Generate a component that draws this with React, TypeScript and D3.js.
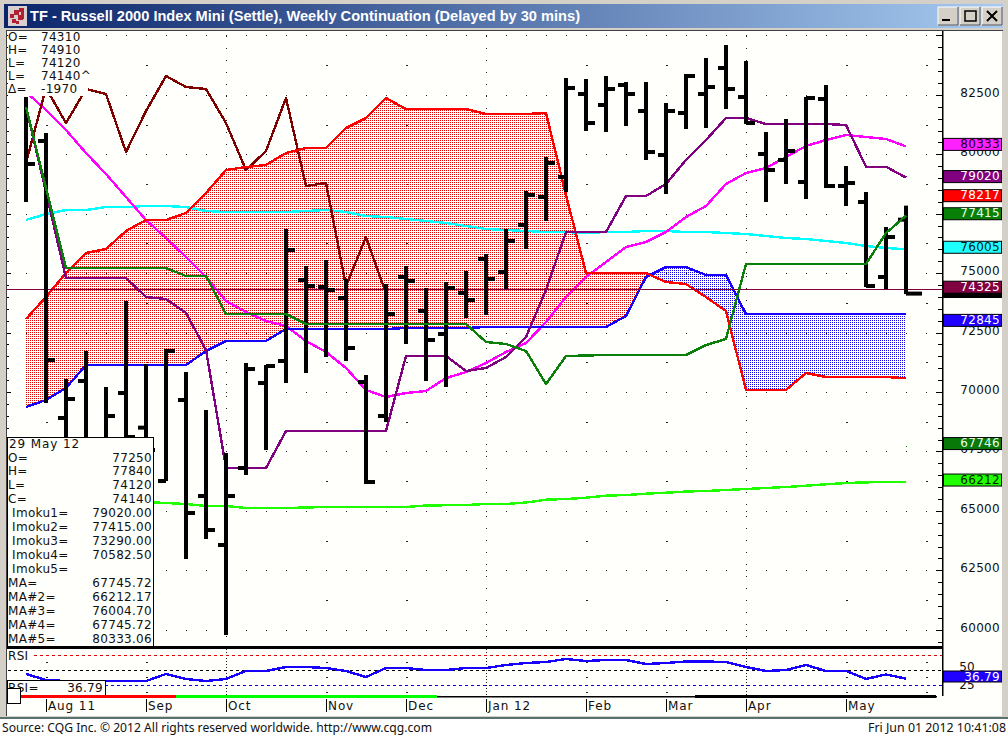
import React from "react";
import * as d3 from "d3";

const W = 1008, H = 736;
const FONT = "'DejaVu Sans', sans-serif";

const highs = [82410,80896,70546,71724,70210,73828,71178,71809,70841,69242,67433,71220,71136,76857,75300,75553,74753,70715,74543,75300,74375,74627,75090,75805,76857,78456,79886,83210,83167,83294,83041,83041,82158,83378,84051,84598,83925,80938,81485,82410,82915,79507,78414,76941,77840];
const opens = [null,80559,68906,70462,67500,69957,68500,66255,69663,65624,63563,66802,70378,71304,74711,74417,73954,70420,68990,74838,73407,72440,74164,75595,75048,77025,78203,79045,82536,82074,82915,81821,79970,81737,82536,83630,82410,80012,79760,78834,82326,78666,77993,74838,77250];
const closes = [79592,71346,69705,68000,68990,68106,67559,71724,64909,64194,65624,70967,71094,75973,74459,74291,71851,66213,73281,74669,72187,74375,73870,74753,76352,78287,79634,82789,81316,82747,82536,80096,81821,83294,82831,82747,81316,79339,80138,82368,78666,78792,74459,76520,74140];
const lows = [77993,69537,66000,66500,66500,66500,65500,66255,62974,63815,59777,66508,67559,70378,70799,71472,71304,66129,68737,72019,70462,70210,73113,73239,74333,76016,77194,78414,80980,80938,81190,79760,78329,81064,81106,81905,81274,77993,78750,78119,78582,77825,74417,74333,74120];

const tenkan = [81990,78414,74796,74796,74796,74796,73996,73912,73323,71766,66802,66802,66802,68359,68359,68359,68359,68359,68359,71514,71514,71514,70883,71009,71472,72313,74291,76731,76731,76731,78245,78245,78750,79760,80601,81527,81527,81274,81274,81274,81274,81232,79478,79478,79020];
const kijun = [81990,78582,75216,75216,75216,75216,75216,75216,74880,74880,73281,73281,73281,73281,72860,72860,72860,72860,72860,72860,72860,72860,72860,72103,72019,71724,70336,71514,71535,71556,71556,71556,71556,71556,71977,72229,75385,75385,75385,75385,75385,75385,75385,76689,77415];
const senkouA = [73071,73996,75006,75847,76016,76773,77236,77236,77530,78371,79339,79465,79550,80054,80265,80265,81106,81527,82368,81905,81905,81905,81905,81695,81695,81695,81737,78287,75006,75006,75006,75006,74627,74543,73996,73407,70084,70084,70084,70799,70630,70630,70630,70630,70582];
const senkouB = [69369,69663,70168,71136,71136,71136,71136,71136,71136,71724,72145,72145,72145,72650,72650,72650,72650,72650,72650,72692,72692,72692,72692,72734,72734,72734,72734,72734,72734,72734,73197,74838,75258,75258,74922,74922,73281,73281,73281,73281,73281,73281,73281,73281,73290];
const chikou = [79634,82789,81316,82747,82536,80096,81821,83294,82831,82747,81316,79339,80138,82368,78666,78792,74459,76520,74140];
const maCyan = [77236,77488,77656,77656,77782,77782,77824,77824,77782,77614,77572,77572,77572,77572,77614,77656,77572,77404,77362,77278,77194,77110,76983,76857,76815,76773,76731,76731,76689,76731,76731,76773,76773,76731,76731,76689,76647,76562,76478,76436,76352,76268,76142,76058,76005];
const maMagenta = [82621,81863,81022,80054,79171,78203,77236,76478,75679,74838,73828,73365,72986,72776,72145,71682,71009,70084,69789,69958,70042,70588,70841,71220,71682,72061,72944,73996,74838,75469,76100,76310,76731,77362,77825,78750,79213,79423,79886,80349,80601,80812,80727,80643,80333];
const maLime = [65372,65330,65288,65204,65204,65119,65119,65119,65140,65162,65162,65162,65162,65162,65225,65235,65246,65288,65288,65351,65469,65498,65553,65637,65667,65721,65763,65813,65835,65877,65919,65961,66003,66058,66116,66171,66200,66205,66212];
const maLimeStart = 6;
const maDarkLast = 67746;
const rsiValues = [44.5,34.5,32.8,32.8,32.8,32.8,32.8,44.5,36.2,32.8,36.2,49.5,49.5,56.2,56.2,54.5,49.5,39.5,54.5,54.5,51.2,51.2,54.5,54.5,59.5,62.8,64.5,69.5,66.2,67.8,67.8,61.2,62.8,65.3,65.3,64.5,56.2,49.5,51.2,59.5,49.5,49.5,36.2,43.7,36.79];

const priceTicks = [60000,62500,65000,67500,70000,72500,75000,80000,82500];
const monthLabels = ["Aug 11","Sep","Oct","Nov","Dec","Jan 12","Feb","Mar","Apr","May"];
const monthIndex = [1,6,10,15,19,23,28,32,36,41];
const quarterMonths = [10,23,36];

const topInfoKeys = ["O=","H=","L=","L=","Δ="];
const topInfoVals = ["74310","74910","74120","74140^","-1970"];
const panelKeys = ["O=","H=","L=","C="," Imoku1="," Imoku2="," Imoku3="," Imoku4="," Imoku5=","MA=","MA#2=","MA#3=","MA#4=","MA#5="];
const panelVals = ["77250","77840","74120","74140","79020.00","77415.00","73290.00","70582.50","","67745.72","66212.17","76004.70","67745.72","80333.06"];

const tagValues = [80333,79020,78217,77415,76005,74325,72845,67746,66212];
const tagFills = ["#ff20ff","#800080","#ff0000","#088008","#20ffff","#800040","#2000ff","#087808","#20ff00"];
const tagInk = ["#200020","#ffffff","#ffffff","#e8ffe8","#002020","#ffffff","#ffffff","#e8ffe8","#002000"];
const tagNudge = [-2,-1,-1,-2,-2,-2,-4,-2,-2];

const x = d3.scaleLinear().domain([0, 44]).range([26, 906]);
const y = d3.scaleLinear().domain([70000, 80000]).range([392, 154.3]);
const r = d3.scaleLinear().domain([25, 75]).range([685.7, 655.7]);

const pricePath = d3.line<number>().x((_, i) => x(i)).y((d) => y(d));
const rsiPath = d3.line<number>().x((_, i) => x(i)).y((d) => r(d));
const limePath = d3.line<number>().x((_, i) => x(i + maLimeStart)).y((d) => y(d));

const cloudArea = d3.area<number>().x((_, i) => x(i)).y0((_, i) => y(senkouB[i])).y1((d) => y(d))(senkouA) as string;
const aboveBlue = d3.area<number>().x((_, i) => x(i)).y0(0).y1((d) => y(d))(senkouB) as string;
const belowBlue = d3.area<number>().x((_, i) => x(i)).y0(H).y1((d) => y(d))(senkouB) as string;

const indices = d3.range(highs.length);
const dotColumns = d3.range(0, 46);
const dotRows = [...priceTicks, 77500, 85000];
const dashRows = d3.range(61250, 85000, 2500);
const dashCols = [1, 6, 15, 19, 28, 32, 41, 45];
const tickRows = d3.range(57500, 86000, 500).filter((p) => y(p) > 32 && y(p) < 647);

const Line = ({ d, color, w = 2.4 }: { d: string; color: string; w?: number }) => (
  <path d={d} fill="none" stroke={color} strokeWidth={w} strokeLinejoin="round" shapeRendering="crispEdges" />
);

const Txt = (p: any) => (
  <text fontFamily={FONT} fontSize={12} letterSpacing={0.3} fill="#101010" dominantBaseline="middle" {...p} />
);

export default function App() {
  const bg = "#fffffb";
  return (
    <svg width={W} height={H} viewBox={`0 0 ${W} ${H}`} style={{ position: "fixed", left: 0, top: 0, display: "block" }}>
      <defs>
        <linearGradient id="title" x1="0" x2="1" y1="0" y2="0">
          <stop offset="0" stopColor="#0a246a" />
          <stop offset="1" stopColor="#a6caf0" />
        </linearGradient>
        <pattern id="redDots" width={2} height={2} patternUnits="userSpaceOnUse">
          <rect width={1} height={1} fill="#e00000" />
        </pattern>
        <pattern id="blueDots" width={2} height={2} patternUnits="userSpaceOnUse">
          <rect width={1} height={1} fill="#1000e0" />
        </pattern>
        <clipPath id="clipAbove"><path d={aboveBlue} /></clipPath>
        <clipPath id="clipBelow"><path d={belowBlue} /></clipPath>
      </defs>

      {/* window chrome */}
      <rect width={W} height={H} fill="#ffffff" />
      <rect x={0} y={0} width={W} height={719} fill="#d4d0c8" />
      <rect x={4} y={4} width={999} height={24} fill="url(#title)" />
      <rect x={8} y={6} width={19} height={20} fill="#d8d0d0" />
      {[[10,14,4,4],[14,10,5,5],[19,8,5,4],[12,19,4,4],[18,15,5,5],[16,21,3,3],[21,12,3,7]].map((b, i) => (
        <rect key={i} x={b[0]} y={b[1]} width={b[2]} height={b[3]} fill="#b02030" />
      ))}
      <text x={30} y={21} fontFamily="'Liberation Sans', sans-serif" fontWeight="bold" fontSize={14} fill="#ffffff" textLength={550} lengthAdjust="spacingAndGlyphs">
        TF - Russell 2000 Index Mini (Settle), Weekly Continuation (Delayed by 30 mins)
      </text>
      {[938, 960, 982].map((bx) => (
        <g key={bx}>
          <rect x={bx} y={7} width={20} height={18} fill="#d4d0c8" stroke="#ffffff" strokeWidth={1} />
          <path d={`M${bx + 20} 7V25H${bx}`} fill="none" stroke="#404040" />
        </g>
      ))}
      <rect x={942} y={19} width={8} height={2} fill="#000" />
      <rect x={965} y={11} width={11} height={10} fill="none" stroke="#000" strokeWidth={1.5} />
      <path d="M987 11L997 21M997 11L987 21" stroke="#000" strokeWidth={2} />

      {/* panes */}
      <rect x={7} y={31} width={995} height={685} fill={bg} />
      <rect x={6} y={30} width={1} height={686} fill="#404040" />
      <rect x={6} y={30} width={997} height={1} fill="#404040" />
      <rect x={0} y={717} width={W} height={2} fill="#5a7070" />

      {/* grid */}
      {dotRows.map((p) =>
        dotColumns.map((c) => <rect key={`${p}-${c}`} x={x(c)} y={Math.round(y(p))} width={1} height={1} fill="#202020" />)
      )}
      {dashRows.map((p) =>
        dashCols.map((c) => <rect key={`${p}-${c}`} x={x(c)} y={Math.round(y(p))} width={2} height={1} fill="#202020" />)
      )}
      {quarterMonths.map((c) => (
        <g key={c}>
          <line x1={x(c)} x2={x(c)} y1={36} y2={647} stroke="#202020" strokeDasharray="1 11" shapeRendering="crispEdges" />
          <line x1={x(c)} x2={x(c)} y1={649} y2={696} stroke="#202020" strokeDasharray="1 2" shapeRendering="crispEdges" />
        </g>
      ))}
      {[661.5, 676.5, 692].map((ry) =>
        dashCols.map((c) => <rect key={`${ry}-${c}`} x={x(c)} y={Math.round(ry)} width={2} height={1} fill="#202020" />)
      )}

      {/* cloud */}
      <path d={cloudArea} fill="url(#redDots)" clipPath="url(#clipAbove)" />
      <path d={cloudArea} fill="url(#blueDots)" clipPath="url(#clipBelow)" />

      {/* indicators under the bars */}
      <Line d={limePath(maLime) as string} color="#20ff00" />
      <Line d={pricePath(maCyan) as string} color="#00ffff" />
      <Line d={pricePath(maMagenta) as string} color="#ff00ff" />
      <Line d={pricePath(chikou) as string} color="#800000" />
      <Line d={pricePath(senkouB) as string} color="#1800ff" />
      <Line d={pricePath(senkouA) as string} color="#ff0000" />
      <Line d={pricePath(tenkan) as string} color="#800080" />
      <rect x={x(44)} y={Math.round(y(maDarkLast))} width={1} height={1} fill="#008000" />

      {/* last price line */}
      <line x1={7} x2={942} y1={y(74325)} y2={y(74325)} stroke="#800040" strokeWidth={1} shapeRendering="crispEdges" />

      {/* OHLC bars */}
      {indices.map((i) => {
        const last = i === indices.length - 1;
        const o = opens[i];
        return (
          <g key={i} fill="#000">
            <rect x={x(i) - 2} y={y(highs[i])} width={4} height={y(lows[i]) - y(highs[i])} />
            {o !== null && <rect x={x(i) - 8} y={y(o) - 2} width={8} height={4} />}
            <rect x={x(i)} y={y(closes[i]) - 2} width={last ? 16 : 9} height={4} />
          </g>
        );
      })}
      <Line d={pricePath(kijun) as string} color="#0a800a" />

      {/* frame lines */}
      <rect x={942} y={31} width={1.5} height={665} fill="#000" />
      <rect x={7} y={646} width={936} height={3} fill="#000" />
      {tickRows.map((p) => (
        <g key={p}>
          <rect x={p % 2500 === 0 ? 936 : 938} y={Math.round(y(p))} width={p % 2500 === 0 ? 6 : 4} height={1} fill="#000" />
          <rect x={7} y={Math.round(y(p))} width={p % 2500 === 0 ? 4 : 2} height={1} fill="#000" />
        </g>
      ))}

      {/* top-left readout */}
      <rect x={8} y={32} width={80} height={64} fill={bg} />
      {topInfoKeys.map((k, i) => (
        <g key={i}>
          <Txt x={8} y={37.5 + i * 12.95}>{k}</Txt>
          <Txt x={41} y={37.5 + i * 12.95}>{topInfoVals[i]}</Txt>
        </g>
      ))}

      {/* bottom-left data panel */}
      <rect x={7.5} y={437.5} width={146} height={209} fill={bg} stroke="#000" />
      <Txt x={9} y={444.5} letterSpacing={0.9}>29 May 12</Txt>
      {panelKeys.map((k, i) => (
        <g key={i}>
          <Txt x={8} y={458 + i * 13.95} xmlSpace="preserve">{k}</Txt>
          <Txt x={152} y={458 + i * 13.95} textAnchor="end">{panelVals[i]}</Txt>
        </g>
      ))}

      {/* price axis labels */}
      {priceTicks.map((p) => (
        <Txt key={p} x={1000} y={y(p) - 1.5} textAnchor="end">{p}</Txt>
      ))}
      <rect x={943} y={293} width={59} height={5} fill="#000" />
      {tagValues.map((v, i) => {
        const cy = y(v) + tagNudge[i];
        return (
          <g key={v}>
            <rect x={943.5} y={cy - 6} width={58} height={12} fill={tagFills[i]} stroke="#000" />
            <Txt x={1000} y={cy} textAnchor="end" fill={tagInk[i]}>{v}</Txt>
          </g>
        );
      })}

      {/* RSI pane */}
      <line x1={34} x2={942} y1={r(75)} y2={r(75)} stroke="#e00000" strokeDasharray="3 3" shapeRendering="crispEdges" />
      <line x1={8} x2={942} y1={r(50)} y2={r(50)} stroke="#000" strokeDasharray="3 3" shapeRendering="crispEdges" />
      <line x1={105} x2={942} y1={r(25)} y2={r(25)} stroke="#1000e0" strokeDasharray="3 3" shapeRendering="crispEdges" />
      <Line d={rsiPath(rsiValues) as string} color="#1800ff" />
      <Txt x={8} y={656}>RSI</Txt>
      <rect x={7.5} y={680.5} width={98} height={15} fill={bg} stroke="#000" />
      <Txt x={8} y={688}>RSI=</Txt>
      <Txt x={103} y={688} textAnchor="end">36.79</Txt>
      <Txt x={975} y={667} textAnchor="end">50</Txt>
      <Txt x={975} y={685} textAnchor="end">25</Txt>
      <rect x={943.5} y={671} width={58} height={11} fill="#2000ff" stroke="#000" />
      <Txt x={1000} y={677} textAnchor="end" fill="#ffffff">36.79</Txt>

      {/* time axis */}
      <rect x={7} y={696} width={930} height={1.5} fill="#000" />
      <rect x={20} y={695} width={156} height={3} fill="#ff0000" />
      <rect x={176} y={695} width={261} height={3} fill="#00ff00" />
      <rect x={695} y={695} width={241} height={3} fill="#000" />
      <rect x={7.5} y={688.5} width={13} height={15} fill={bg} stroke="#000" />
      {monthLabels.map((m, i) => (
        <g key={m}>
          <rect x={x(monthIndex[i])} y={699} width={1} height={13} fill="#000" />
          <Txt x={x(monthIndex[i]) + 2} y={706} letterSpacing={0.9} xmlSpace="preserve">{m}</Txt>
        </g>
      ))}

      {/* footer */}
      <text x={2} y={732} fontFamily="'Noto Sans', sans-serif" fontSize={12} fill="#101010" textLength={430} lengthAdjust="spacingAndGlyphs">
        Source: CQG Inc. © 2012 All rights reserved worldwide.  http://www.cqg.com
      </text>
      <text x={868} y={732} fontFamily="'Noto Sans', sans-serif" fontSize={12} fill="#101010" textLength={138} lengthAdjust="spacingAndGlyphs">
        Fri Jun 01 2012 10:41:08
      </text>
    </svg>
  );
}
